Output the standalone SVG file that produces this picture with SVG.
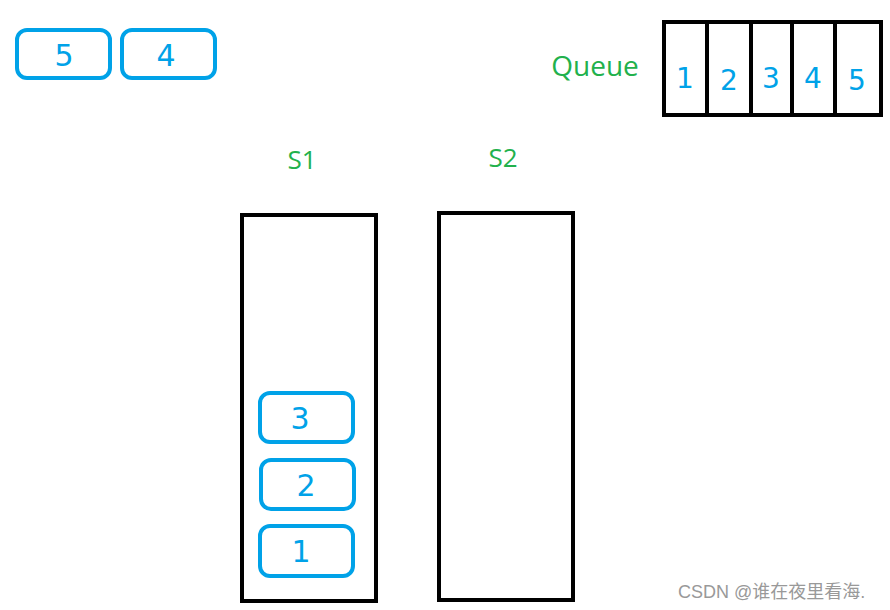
<svg xmlns="http://www.w3.org/2000/svg" width="890" height="610" viewBox="0 0 890 610">
<style>
.blk{fill:none;stroke:#000;stroke-width:4}
.card{fill:none;stroke:#00a2e8;stroke-width:4}
.dig{fill:#00a2e8;font-family:"DejaVu Sans",sans-serif;font-size:30px;text-anchor:middle}
.qd{fill:#00a2e8;font-family:"DejaVu Sans",sans-serif;font-size:28px;text-anchor:middle}
.lbl{fill:#22b14c;font-family:"Open Sans","Liberation Sans",sans-serif;font-size:26px;text-anchor:middle}
.wm{fill:#999;font-family:"Liberation Sans","Noto Sans CJK SC",sans-serif;font-size:18px}
</style>
<rect width="890" height="610" fill="#fff"/>
<g id="card5"><rect class="card" x="17" y="30" width="93" height="48" rx="10"/><text class="dig" x="64" y="66">5</text></g>
<g id="card4"><rect class="card" x="122" y="30" width="93" height="48" rx="10"/><text class="dig" x="166" y="66">4</text></g>
<g id="queue">
<text class="lbl" x="595" y="76" style="font-size:28px">Queue</text>
<rect class="blk" x="664" y="22" width="217" height="93"/>
<line class="blk" x1="707" y1="22" x2="707" y2="115"/>
<line class="blk" x1="751" y1="22" x2="751" y2="115"/>
<line class="blk" x1="792" y1="22" x2="792" y2="115"/>
<line class="blk" x1="835" y1="22" x2="835" y2="115"/>
<text class="qd" x="685" y="88">1</text>
<text class="qd" x="729" y="90">2</text>
<text class="qd" x="771" y="88">3</text>
<text class="qd" x="813" y="88">4</text>
<text class="qd" x="857" y="90">5</text>
</g>
<g id="s1">
<text class="lbl" x="302" y="169">S1</text>
<rect class="blk" x="242" y="215" width="134" height="386"/>
</g>
<g id="s2">
<text class="lbl" x="503" y="167">S2</text>
<rect class="blk" x="439" y="213" width="134" height="387"/>
</g>
<g id="item3"><rect class="card" x="260" y="393" width="93" height="49" rx="10"/><text class="dig" x="300" y="429">3</text></g>
<g id="item2"><rect class="card" x="261" y="460" width="93" height="49" rx="10"/><text class="dig" x="306" y="496">2</text></g>
<g id="item1"><rect class="card" x="260" y="526" width="93" height="50" rx="10"/><text class="dig" x="301" y="562">1</text></g>
<g id="connectors"></g>
<text class="wm" x="678" y="598">CSDN @谁在夜里看海.</text>
</svg>
